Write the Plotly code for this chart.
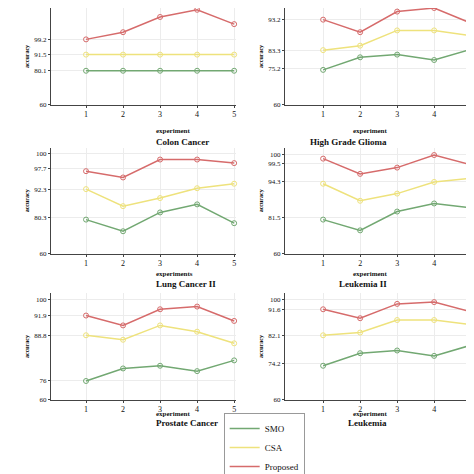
import plotly.graph_objects as go

experiments = [1, 2, 3, 4, 5]
titles = ["Colon Cancer", "High Grade Glioma", "Lung Cancer II", "Leukemia II", "Prostate Cancer", "Leukemia"]
xlabels = ["experiment", "experiment", "experiments", "experiment", "experiment", "experiment"]
# y values are in the panel's own (non-linear, label-positioned) axis units
tick_pos = [[0, 38, 56, 73], [0, 40, 61, 95], [0, 40, 72, 95, 112], [0, 40, 80, 101, 111],
            [0, 21, 72, 94, 112], [0, 40, 72, 101, 112]]
tick_lbl = [["60", "80.1", "91.5", "99.2"], ["60", "75.2", "83.3", "93.2"],
            ["60", "80.3", "92.3", "97.7", "100"], ["60", "81.5", "94.3", "99.5", "100"],
            ["60", "76", "88.8", "91.9", "100"], ["60", "74.2", "82.1", "91.6", "100"]]
red = [[73, 81, 98, 106, 90], [95, 81, 104, 108, 91], [92, 85, 105, 105, 101],
       [106, 89, 96, 110, 99], [94, 83, 101, 104, 88], [101, 91, 107, 109, 98]]
csa = [[56, 56, 56, 56, 56], [61, 66, 83, 83, 77], [72, 53, 62, 73, 78],
       [78, 59, 67, 80, 84], [72, 67, 83, 76, 63], [72, 75, 89, 89, 84]]
smo = [[38, 38, 38, 38, 38], [39, 53, 56, 50, 62], [38, 25, 46, 55, 34],
       [38, 26, 47, 56, 51], [21, 35, 38, 32, 44], [38, 52, 55, 49, 61]]

RED, YEL, GRN = "#d66b6b", "#eee27c", "#72a872"
W = 474.0
rows = [(0, 108, 108), (156, 274, 118), (318, 437, 119)]
cols = [((43, 228), (0.054, 5.05)), ((277, 465), (-0.03, 5.05))]
font = "Liberation Serif"

fig = go.Figure()
ann = []
for i in range(6):
    r, c = divmod(i, 2)
    (pt, pb, top) = rows[r]
    (xl, xr), xrng = cols[c]
    n = i + 1
    xa = "x" if n == 1 else f"x{n}"
    ya = "y" if n == 1 else f"y{n}"
    for vals, col in ((red[i], RED), (csa[i], YEL), (smo[i], GRN)):
        fig.add_trace(go.Scatter(x=experiments, y=vals, xaxis=xa, yaxis=ya, mode="lines+markers",
                                 line=dict(color=col, width=1.5), showlegend=False, cliponaxis=False,
                                 marker=dict(symbol="circle-open", size=5, color=col, line=dict(width=1))))
    axk = "xaxis" if n == 1 else f"xaxis{n}"
    ayk = "yaxis" if n == 1 else f"yaxis{n}"
    fig.layout[axk] = dict(domain=[xl / W, xr / W], range=list(xrng), anchor=ya, tickvals=experiments,
                           showline=True, linecolor="#444", linewidth=1, ticks="outside", ticklen=2,
                           automargin=False,
                           tickfont=dict(family=font, size=8, color="#111"), gridcolor="#ececec", zeroline=False)
    fig.layout[ayk] = dict(domain=[1 - pb / W, 1 - pt / W], range=[0, top], anchor=xa,
                           tickvals=tick_pos[i], ticktext=tick_lbl[i], automargin=False,
                           showline=True, linecolor="#444", linewidth=1, ticks="outside", ticklen=2,
                           tickfont=dict(family=font, size=7, color="#111"), gridcolor="#ececec",
                           zeroline=False,
                           title=dict(text="<b>accuracy</b>", font=dict(family=font, size=6, color="#111"), standoff=4))
    cx = ((xl + xr) / 2 + 10) / W
    ann.append(dict(text="<b>" + xlabels[i] + "</b>", x=cx, y=1 - (pb + 23) / W, xref="paper", yref="paper",
                    showarrow=False, font=dict(family=font, size=7, color="#111")))
    ann.append(dict(text="<b>" + titles[i] + "</b>", x=cx, y=1 - (pb + 34) / W, xref="paper", yref="paper",
                    showarrow=False, font=dict(family=font, size=9, color="#111")))

for name, col in (("SMO", GRN), ("CSA", YEL), ("Proposed", RED)):
    fig.add_trace(go.Scatter(x=[None], y=[None], mode="lines", name=name, line=dict(color=col, width=1.5)))

fig.update_layout(width=474, height=474, margin=dict(l=0, r=0, t=0, b=0), paper_bgcolor="white",
                  plot_bgcolor="white", annotations=ann,
                  legend=dict(x=0.455, y=1 - 452 / W, xanchor="left", yanchor="top", bordercolor="#999",
                              borderwidth=1, font=dict(family=font, size=9, color="#111"),
                              tracegroupgap=0, itemwidth=30))
fig.write_html("out.html")
